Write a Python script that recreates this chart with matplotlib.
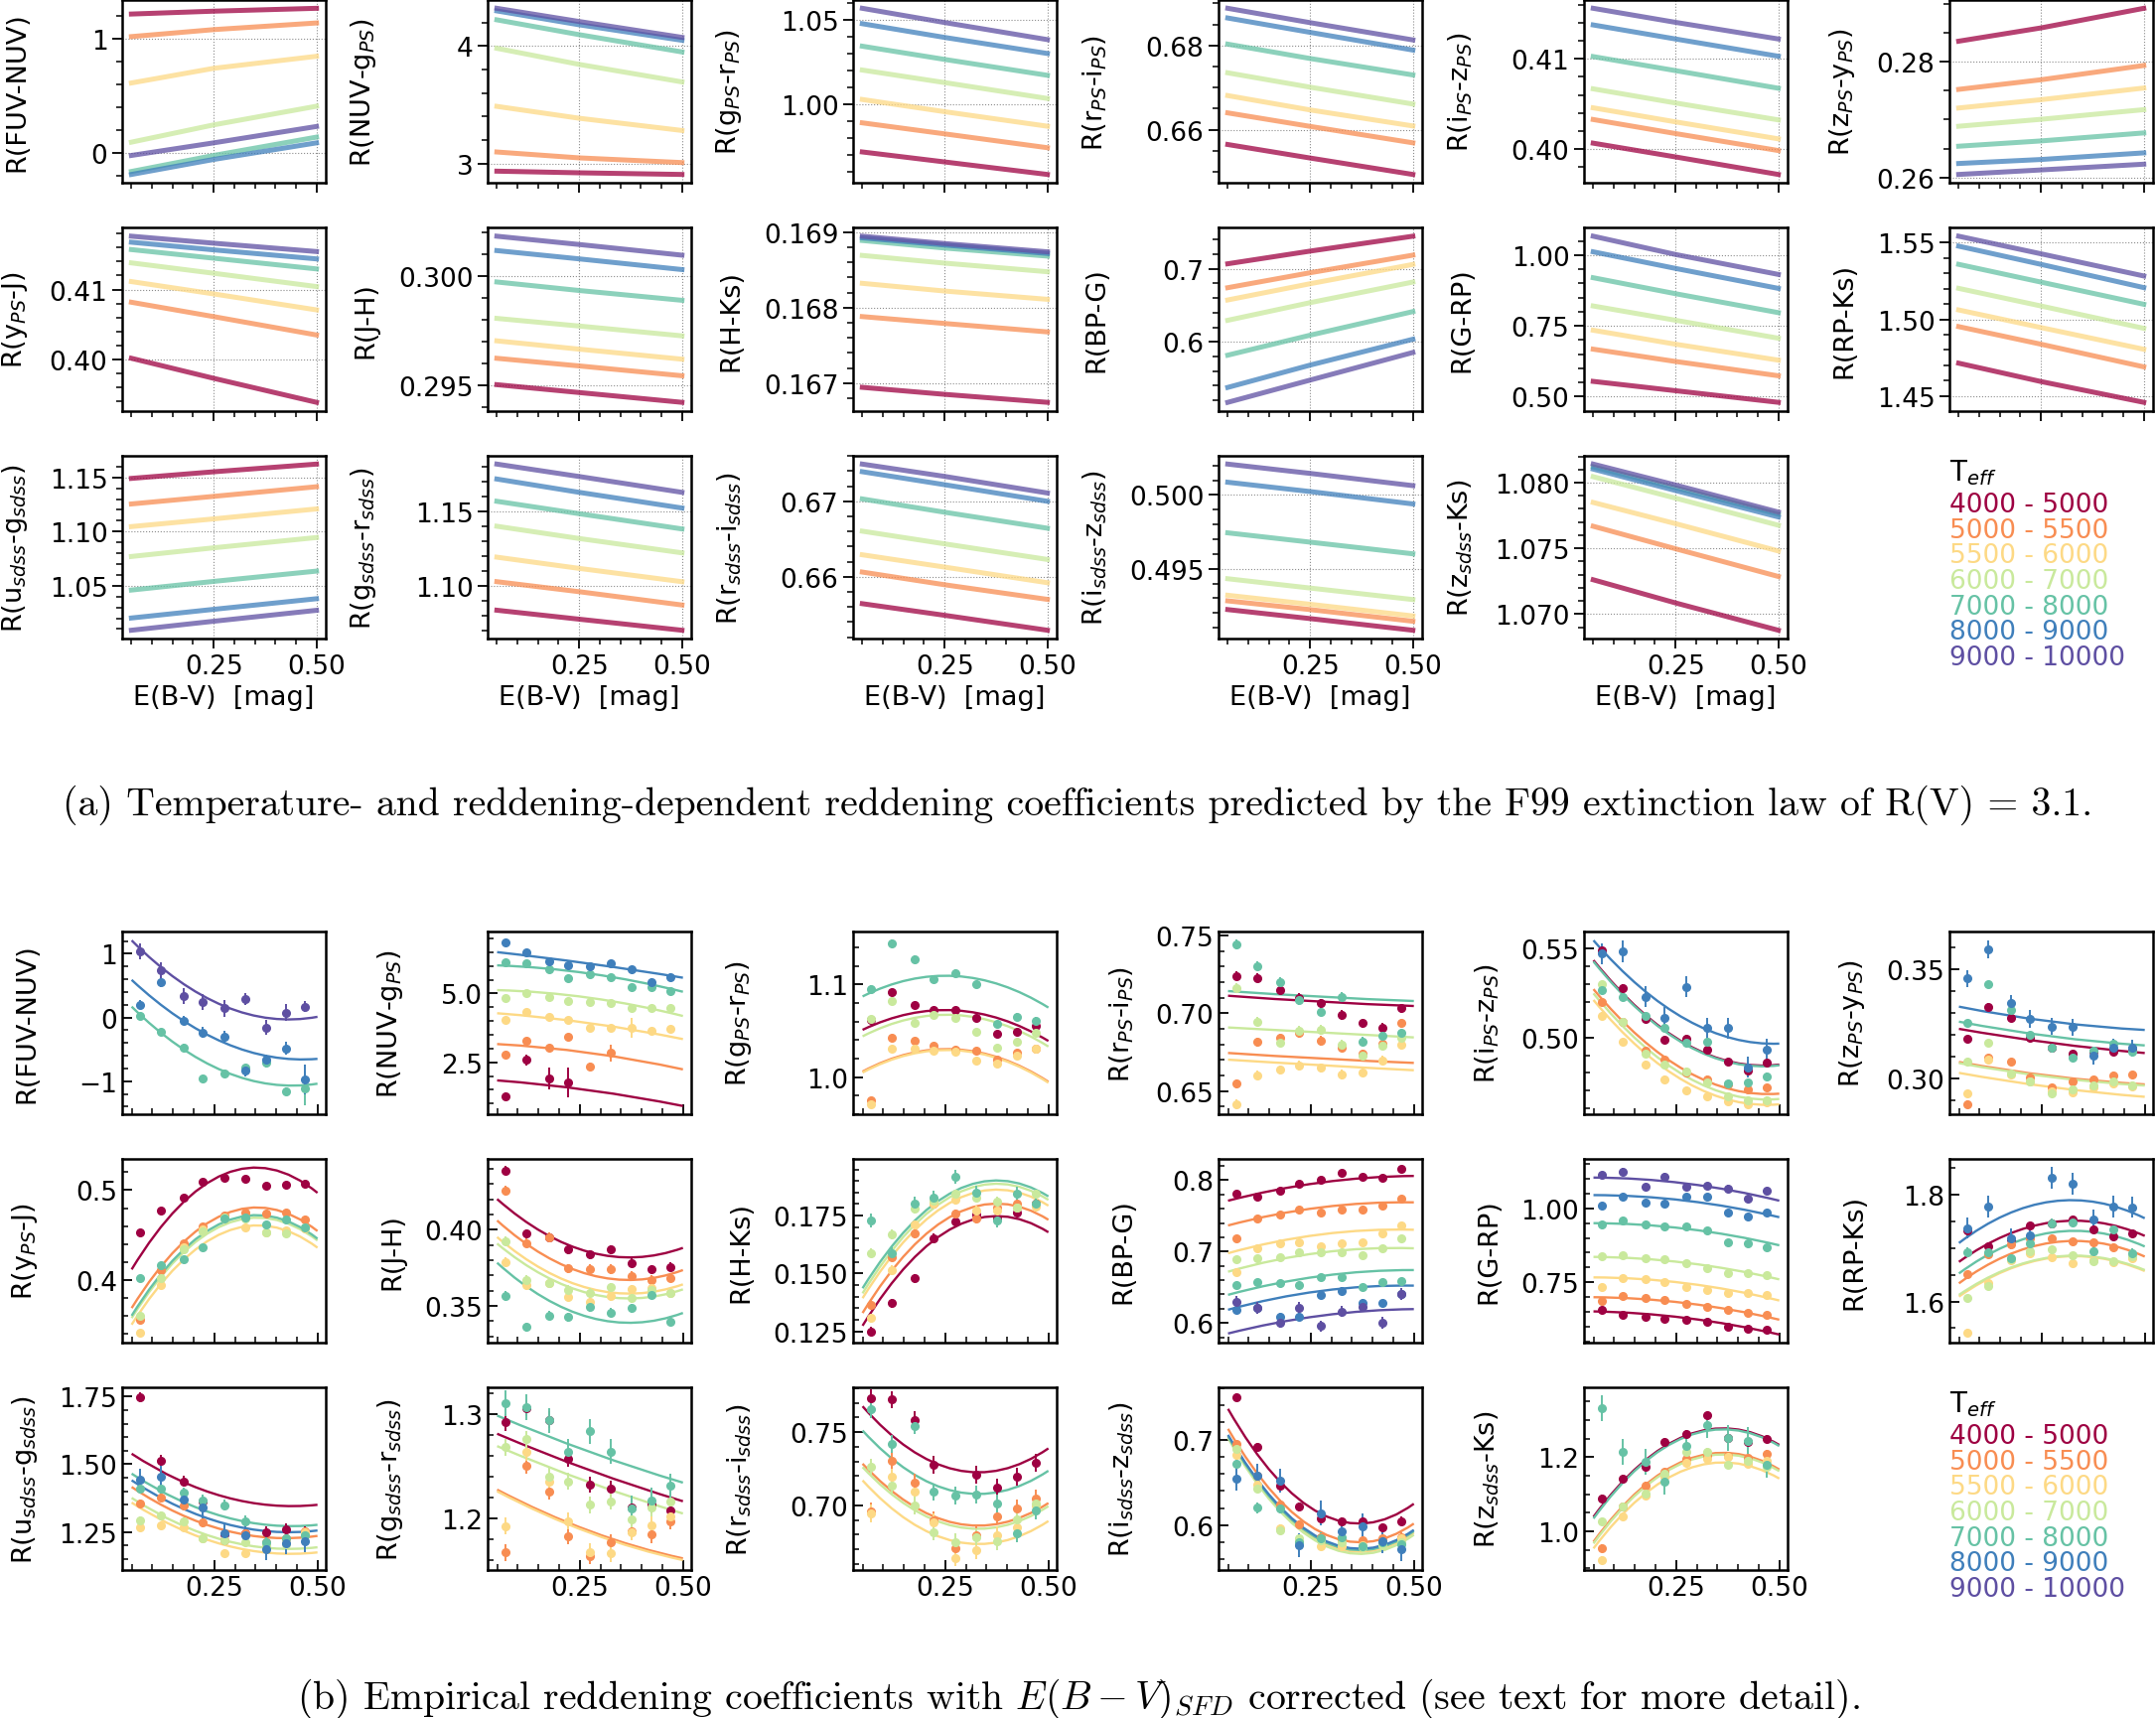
import numpy as np
import matplotlib
matplotlib.use('Agg')
import matplotlib.pyplot as plt
from matplotlib.path import Path
from matplotlib.patches import PathPatch
from matplotlib.ticker import MultipleLocator, AutoMinorLocator, ScalarFormatter

nan = np.nan

TEFF = ['4000 - 5000', '5000 - 5500', '5500 - 6000', '6000 - 7000',
        '7000 - 8000', '8000 - 9000', '9000 - 10000']
COLORS = ['#9e0142', '#f88d52', '#fdd985', '#c9e99c', '#66c2a5', '#3f7fbb', '#5e4fa2']

LABELS = ['R(FUV-NUV)', 'R(NUV-g$_{PS}$)', 'R(g$_{PS}$-r$_{PS}$)', 'R(r$_{PS}$-i$_{PS}$)',
          'R(i$_{PS}$-z$_{PS}$)', 'R(z$_{PS}$-y$_{PS}$)', 'R(y$_{PS}$-J)', 'R(J-H)',
          'R(H-Ks)', 'R(BP-G)', 'R(G-RP)', 'R(RP-Ks)',
          'R(u$_{sdss}$-g$_{sdss}$)', 'R(g$_{sdss}$-r$_{sdss}$)',
          'R(r$_{sdss}$-i$_{sdss}$)', 'R(i$_{sdss}$-z$_{sdss}$)', 'R(z$_{sdss}$-Ks)']

# ---- (a) F99 predictions: value at E(B-V) = 0.05, 0.25, 0.50, one row per Teff bin
EBV_LINE = [0.05, 0.25, 0.5]

A_FUV_NUV = [[1.212, 1.237, 1.262], [1.015, 1.076, 1.134], [0.610, 0.738, 0.843],
             [0.093, 0.244, 0.407], [-0.163, -0.023, 0.137], [-0.189, -0.058, 0.087],
             [-0.023, 0.087, 0.230]]
A_NUV_G = [[2.935, 2.921, 2.907], [3.098, 3.048, 3.008], [3.486, 3.385, 3.281],
           [3.980, 3.843, 3.694], [4.222, 4.096, 3.949], [4.298, 4.180, 4.048],
           [4.320, 4.208, 4.073]]
A_G_R_PS = [[0.9719, 0.9660, 0.9586], [0.9891, 0.9826, 0.9744], [1.0029, 0.9957, 0.9871],
            [1.0203, 1.0129, 1.0035], [1.0344, 1.0266, 1.0172], [1.0477, 1.0396, 1.0301],
            [1.0568, 1.0484, 1.0383]]
A_R_I_PS = [[0.6565, 0.6533, 0.6494], [0.6640, 0.6608, 0.6569], [0.6681, 0.6647, 0.6609],
            [0.6735, 0.6701, 0.6661], [0.6803, 0.6769, 0.6730], [0.6865, 0.6831, 0.6789],
            [0.6888, 0.6854, 0.6813]]
A_I_Z_PS = [[0.40063, 0.3991, 0.39715], [0.40326, 0.4017, 0.39981], [0.40456, 0.4030, 0.40111],
            [0.40667, 0.4051, 0.40322], [0.41026, 0.4087, 0.40674], [0.41378, 0.41222, 0.41030],
            [0.41563, 0.41407, 0.41222]]
A_Z_Y_PS = [[0.28350, 0.28579, 0.28917], [0.27519, 0.27685, 0.27931], [0.27198, 0.27341, 0.27542],
            [0.26883, 0.27003, 0.27169], [0.26539, 0.26630, 0.26768], [0.26241, 0.26310, 0.26424],
            [0.26052, 0.26130, 0.26229]]
A_Y_J = [[0.40019, 0.39733, 0.39390], [0.40819, 0.40614, 0.40352], [0.41114, 0.40938, 0.40710],
         [0.41381, 0.41233, 0.41043], [0.41571, 0.41448, 0.41295], [0.41676, 0.41567, 0.41438],
         [0.41762, 0.41662, 0.41543]]
A_J_H = [[0.29502, 0.29466, 0.29421], [0.29623, 0.29588, 0.29543], [0.29703, 0.29665, 0.29619],
         [0.29806, 0.29771, 0.29726], [0.29973, 0.29934, 0.29889], [0.30117, 0.30079, 0.30030],
         [0.30183, 0.30145, 0.30096]]
A_H_KS = [[0.166943, 0.16685, 0.166744], [0.167881, 0.16779, 0.167678], [0.168322, 0.16822, 0.168110],
          [0.168692, 0.16859, 0.168476], [0.16889, 0.16879, 0.168683], [0.168925, 0.16883, 0.168718],
          [0.168947, 0.16885, 0.168740]]
A_BP_G = [[0.7068, 0.7241, 0.7445], [0.6741, 0.6945, 0.7186], [0.6573, 0.6795, 0.7059],
          [0.6295, 0.6536, 0.6818], [0.5818, 0.6091, 0.6414], [0.5377, 0.5682, 0.6036],
          [0.5173, 0.5477, 0.5855]]
A_G_RP = [[0.5540, 0.5211, 0.4800], [0.6678, 0.6244, 0.5739], [0.7347, 0.6854, 0.6291],
          [0.8204, 0.7700, 0.7066], [0.9202, 0.8638, 0.7969], [1.0117, 0.9531, 0.8826],
          [1.0669, 1.0023, 0.9319]]
A_RP_KS = [[1.4713, 1.4593, 1.4457], [1.4952, 1.4837, 1.4689], [1.5061, 1.4946, 1.4804],
           [1.5202, 1.5087, 1.4941], [1.5359, 1.5243, 1.5098], [1.5478, 1.5359, 1.5207],
           [1.5543, 1.5428, 1.5283]]
A_U_G_SDSS = [[1.1491, 1.1552, 1.1623], [1.1255, 1.1325, 1.1414], [1.1046, 1.1117, 1.1209],
              [1.0770, 1.0850, 1.0945], [1.0460, 1.0540, 1.0635], [1.0202, 1.0282, 1.0380],
              [1.0089, 1.0172, 1.0273]]
A_G_R_SDSS = [[1.0838, 1.0778, 1.0704], [1.1029, 1.0962, 1.0873], [1.1193, 1.1118, 1.1029],
              [1.1400, 1.1318, 1.1222], [1.1567, 1.1484, 1.1382], [1.1716, 1.1627, 1.1522],
              [1.1816, 1.1733, 1.1627]]
A_R_I_SDSS = [[0.65643, 0.65489, 0.65291], [0.66062, 0.65894, 0.65700], [0.66291, 0.66128, 0.65921],
              [0.66604, 0.66436, 0.66229], [0.67031, 0.66855, 0.66643], [0.67392, 0.67220, 0.67000],
              [0.67493, 0.67330, 0.67110]]
A_I_Z_SDSS = [[0.49223, 0.49162, 0.49083], [0.49282, 0.49223, 0.49144], [0.49320, 0.49259, 0.49180],
              [0.49432, 0.49369, 0.49291], [0.49743, 0.49680, 0.49601], [0.50086, 0.50023, 0.49939],
              [0.50209, 0.50146, 0.50063]]
A_Z_KS = [[1.07261, 1.07085, 1.06877], [1.07668, 1.07497, 1.07286], [1.07849, 1.07688, 1.07480],
          [1.08045, 1.07882, 1.07676], [1.0812, 1.0796, 1.0776], [1.08103, 1.0794, 1.07739],
          [1.08141, 1.07982, 1.07776]]

A_DATA = [A_FUV_NUV, A_NUV_G, A_G_R_PS, A_R_I_PS, A_I_Z_PS, A_Z_Y_PS, A_Y_J, A_J_H, A_H_KS,
          A_BP_G, A_G_RP, A_RP_KS, A_U_G_SDSS, A_G_R_SDSS, A_R_I_SDSS, A_I_Z_SDSS, A_Z_KS]
A_STEP = [1, 1, 0.05, 0.02, 0.01, 0.02, 0.01, 0.005, 0.001, 0.1, 0.25, 0.05,
          0.05, 0.05, 0.01, 0.005, 0.005]

# ---- (b) empirical: binned points (keyed by Teff bin index) and quadratic fits,
# the fits read at E(B-V) = 0.05, 0.275, 0.50
EBV_BIN = [0.07, 0.12, 0.175, 0.222, 0.275, 0.325, 0.375, 0.424, 0.47]
EBV_FIT = [0.05, 0.275, 0.5]

B_FUV_NUV = {4: [0.026, -0.218, -0.468, -0.961, -0.878, -0.790, -0.712, -1.164, -1.112],
             5: [0.197, 0.561, -0.052, -0.234, -0.306, -0.831, -0.660, -0.488, -0.971],
             6: [1.039, 0.743, 0.338, 0.240, 0.145, 0.286, -0.156, 0.078, 0.171]}
B_FUV_NUV_ERR = {4: [0.04, 0.04, 0.05, 0.05, 0.06, 0.05, 0.07, 0.06, 0.26],
                 5: [0.07, 0.08, 0.07, 0.09, 0.10, 0.09, 0.07, 0.10, 0.23],
                 6: [0.12, 0.13, 0.12, 0.12, 0.13, 0.09, 0.12, 0.13, 0.09]}
B_FUV_NUV_FIT = {4: [0.17, -0.85, -1.04], 5: [0.59, -0.40, -0.65], 6: [1.21, 0.176, 0.01]}

B_NUV_G = {0: [1.27, 2.58, 1.90, 1.76, nan, nan, nan, nan, nan],
           1: [2.78, 3.28, 3.04, 3.43, 2.36, 2.84, nan, nan, nan],
           2: [4.04, 4.32, 4.15, 4.04, 3.76, 3.74, 3.74, 3.65, 3.71],
           3: [4.84, 5.00, 4.87, 4.72, 4.70, 4.66, 4.48, 4.46, 4.48],
           4: [6.14, 6.08, 5.87, 5.54, 5.69, 5.59, 5.22, 5.23, 5.10],
           5: [6.84, 6.48, 6.18, 6.02, 5.99, 6.08, 5.88, 5.42, 5.60]}
B_NUV_G_ERR = {0: [0.12, 0.20, 0.40, 0.55, 0, 0, 0, 0, 0],
               1: [0.08, 0.08, 0.08, 0.08, 0.14, 0.30, 0, 0, 0],
               2: [0.06, 0.06, 0.06, 0.06, 0.06, 0.06, 0.36, 0.06, 0.06],
               3: 0.06, 4: 0.06,
               5: [0.06, 0.06, 0.06, 0.06, 0.06, 0.06, 0.06, 0.12, 0.12]}
B_NUV_G_FIT = {0: [1.84, 1.48, 0.91], 1: [3.16, 2.84, 2.24], 2: [4.28, 3.92, 3.34],
               3: [5.12, 4.84, 4.18], 4: [6.02, 5.72, 5.06], 5: [6.50, 6.08, 5.57]}

B_G_R_PS = {0: [1.062, 1.092, 1.078, 1.072, 1.072, 1.064, 1.047, 1.049, 1.055],
            1: [0.975, 1.042, 1.039, 1.034, 1.030, 1.029, 1.019, 1.026, 1.031],
            2: [0.971, 1.031, 1.031, 1.029, 1.027, 1.018, 1.015, 1.023, 1.031],
            3: [1.063, 1.082, 1.058, 1.067, 1.064, 1.049, 1.032, 1.038, 1.048],
            4: [1.095, 1.144, 1.127, 1.106, 1.112, 1.100, 1.057, 1.065, 1.061]}
B_G_R_PS_ERR = {0: 0.002, 1: 0.002, 2: 0.002, 3: 0.002, 4: 0.004}
B_G_R_PS_FIT = {0: [1.051, 1.072, 1.039], 1: [1.006, 1.030, 0.995], 2: [1.005, 1.029, 0.994],
                3: [1.044, 1.067, 1.033], 4: [1.087, 1.109, 1.075]}

B_R_I_PS = {0: [0.7240, 0.7228, 0.7149, 0.7100, 0.7064, 0.6989, 0.6936, 0.6909, 0.7032],
            1: [0.6547, 0.6815, 0.6840, 0.6872, 0.6823, 0.6781, 0.6738, 0.6802, 0.6936],
            2: [0.6415, 0.6602, 0.6636, 0.6664, 0.6649, 0.6606, 0.6621, 0.6698, 0.6798],
            3: [0.7164, 0.6947, 0.6813, 0.6887, 0.6894, 0.6798, 0.6730, 0.6794, 0.6840],
            4: [0.7443, 0.7304, 0.7202, 0.7085, 0.7011, 0.7106, 0.6819, 0.6857, 0.6872]}
B_R_I_PS_ERR = 0.003
B_R_I_PS_FIT = {0: [0.7113, 0.7074, 0.7047], 1: [0.6745, 0.6709, 0.6681], 2: [0.6702, 0.6666, 0.6634],
                3: [0.6909, 0.6877, 0.6845], 4: [0.7143, 0.7106, 0.7079]}

B_I_Z_PS = {0: [0.5491, 0.5280, 0.5104, 0.4987, 0.4993, 0.4931, 0.4862, 0.4813, 0.4856],
            1: [0.5201, 0.5090, 0.4925, 0.4875, 0.4800, 0.4763, 0.4735, 0.4707, 0.4716],
            2: [0.5123, 0.4974, 0.4847, 0.4763, 0.4701, 0.4670, 0.4638, 0.4623, 0.4632],
            3: [0.5299, 0.5090, 0.4907, 0.4847, 0.4810, 0.4744, 0.4670, 0.4646, 0.4646],
            4: [0.5267, 0.5229, 0.5121, 0.5056, 0.4968, 0.4978, 0.4739, 0.4744, 0.4780],
            5: [0.5472, 0.5485, 0.5229, 0.5112, 0.5285, 0.5052, 0.5052, 0.4832, 0.4931]}
B_I_Z_PS_ERR = {0: 0.002, 1: 0.002, 2: 0.002, 3: 0.002, 4: 0.002, 5: 0.006}
B_I_Z_PS_FIT = {0: [0.5435, 0.4962, 0.4847], 1: [0.5272, 0.4810, 0.4683], 2: [0.5211, 0.4747, 0.4623],
                3: [0.5248, 0.4779, 0.4653], 4: [0.5428, 0.4957, 0.4843], 5: [0.5547, 0.5100, 0.4965]}

B_Z_Y_PS = {0: [0.3182, 0.3330, 0.3277, 0.3185, 0.3140, 0.3112, 0.3125, 0.3122, 0.3137],
            1: [0.2884, 0.3094, 0.3076, 0.3006, 0.2960, 0.2985, 0.2995, 0.3015, 0.3018],
            2: [0.2930, 0.3087, 0.3018, 0.2988, 0.2939, 0.2935, 0.2957, 0.2976, 0.2965],
            3: [0.3076, 0.3163, 0.3021, 0.2988, 0.2930, 0.2950, 0.2970, 0.2985, 0.2970],
            4: [0.3254, 0.3432, 0.3315, 0.3201, 0.3143, 0.3094, 0.3128, 0.3158, 0.3125],
            5: [0.3459, 0.3593, 0.3345, 0.3274, 0.3239, 0.3236, 0.3106, 0.3143, 0.3140]}
B_Z_Y_PS_ERR = {0: 0.0015, 1: 0.0015, 2: 0.0015, 3: 0.0015, 4: 0.0015, 5: 0.004}
B_Z_Y_PS_FIT = {0: [0.3228, 0.3163, 0.3117], 1: [0.3076, 0.3011, 0.2973], 2: [0.3026, 0.2960, 0.2916],
                3: [0.3071, 0.3006, 0.2968], 4: [0.3261, 0.3193, 0.3152], 5: [0.3330, 0.3261, 0.3223]}

B_Y_J = {0: [0.4526, 0.4772, 0.4919, 0.5092, 0.5140, 0.5129, 0.5048, 0.5059, 0.5066],
         1: [0.3559, 0.4110, 0.4404, 0.4596, 0.4717, 0.4754, 0.4743, 0.4754, 0.4669],
         2: [0.3412, 0.3945, 0.4368, 0.4559, 0.4680, 0.4581, 0.4533, 0.4551, 0.4570],
         3: [0.3603, 0.4018, 0.4338, 0.4544, 0.4699, 0.4680, 0.4533, 0.4522, 0.4588],
         4: [0.4018, 0.4165, 0.4228, 0.4360, 0.4680, 0.4691, 0.4618, 0.4669, 0.4588]}
B_Y_J_ERR = 0.003
B_Y_J_FIT = {0: [0.4118, 0.5180, 0.4970], 1: [0.3688, 0.4733, 0.4545], 2: [0.3504, 0.4532, 0.4360],
             3: [0.3577, 0.4618, 0.4440], 4: [0.3603, 0.4648, 0.4460]}

B_J_H = {0: [0.4391, 0.3974, 0.3952, 0.3870, 0.3837, 0.3870, 0.3783, 0.3739, 0.3757],
         1: [0.4257, 0.3913, 0.3952, 0.3746, 0.3741, 0.3741, 0.3698, 0.3670, 0.3685],
         2: [0.3789, 0.3637, 0.3648, 0.3561, 0.3528, 0.3565, 0.3609, 0.3620, 0.3583],
         3: [0.3926, 0.3670, 0.3648, 0.3604, 0.3587, 0.3622, 0.3550, 0.3604, 0.3583],
         4: [0.3565, 0.3361, 0.3435, 0.3426, 0.3491, 0.3457, 0.3485, 0.3572, 0.3398]}
B_J_H_ERR = 0.003
B_J_H_FIT = {0: [0.4202, 0.3852, 0.3881], 1: [0.4061, 0.3704, 0.3735], 2: [0.3952, 0.3613, 0.3641],
             3: [0.3909, 0.3580, 0.3608], 4: [0.3783, 0.3423, 0.3453]}

B_H_KS = {0: [0.1250, 0.1371, 0.1479, 0.1653, 0.1724, 0.1754, 0.1736, 0.1764, 0.1803],
          1: [0.1364, 0.1571, 0.1671, 0.1803, 0.1757, 0.1736, 0.1786, 0.1800, 0.1800],
          2: [0.1307, 0.1514, 0.1711, 0.1800, 0.1817, 0.1774, 0.1774, 0.1783, 0.1789],
          3: [0.1589, 0.1669, 0.1779, 0.1814, 0.1843, 0.1829, 0.1811, 0.1786, 0.1843],
          4: [0.1729, 0.1589, 0.1803, 0.1829, 0.1919, 0.1850, 0.1729, 0.1846, 0.1803]}
B_H_KS_ERR = {0: 0.002, 1: 0.002, 2: 0.002, 3: 0.002, 4: 0.003}
B_H_KS_FIT = {0: [0.1274, 0.1703, 0.1678], 1: [0.1329, 0.1757, 0.1732], 2: [0.1393, 0.1818, 0.1793],
              3: [0.1414, 0.1843, 0.1818], 4: [0.1436, 0.1858, 0.1833]}

B_BP_G = {0: [0.7806, 0.7769, 0.7852, 0.7954, 0.8000, 0.8106, 0.8051, 0.8037, 0.8153],
          1: [0.7190, 0.7458, 0.7519, 0.7583, 0.7551, 0.7588, 0.7588, 0.7644, 0.7736],
          2: [0.6718, 0.7042, 0.7111, 0.7134, 0.7074, 0.7120, 0.7134, 0.7250, 0.7366],
          3: [0.6889, 0.6912, 0.6926, 0.6995, 0.6995, 0.6995, 0.6949, 0.7042, 0.7190],
          4: [0.6532, 0.6579, 0.6556, 0.6532, 0.6639, 0.6639, 0.6509, 0.6579, 0.6593],
          5: [0.6185, 0.6208, 0.6088, 0.6093, 0.6394, 0.6454, 0.6287, 0.6278, 0.6407],
          6: [0.6301, 0.6208, 0.6009, 0.6208, 0.5954, 0.6162, 0.6231, 0.6000, 0.6407]}
B_BP_G_ERR = {0: 0.003, 1: 0.003, 2: 0.003, 3: 0.003, 4: 0.004, 5: 0.005, 6: 0.008}
B_BP_G_FIT = {0: [0.7713, 0.7968, 0.8060], 1: [0.7366, 0.7620, 0.7690], 2: [0.6977, 0.7241, 0.7306],
              3: [0.6718, 0.6986, 0.7046], 4: [0.6394, 0.6657, 0.6741], 5: [0.6185, 0.6449, 0.6523],
              6: [0.5852, 0.6102, 0.6194]}

B_G_RP = {0: [0.6574, 0.6406, 0.6328, 0.6272, 0.6239, 0.6161, 0.6016, 0.5938, 0.5904],
          1: [0.6886, 0.7054, 0.6964, 0.6908, 0.6775, 0.6663, 0.6574, 0.6462, 0.6406],
          2: [0.7355, 0.7634, 0.7612, 0.7522, 0.7355, 0.7243, 0.7132, 0.7154, 0.7076],
          3: [0.8393, 0.8415, 0.8326, 0.8281, 0.8136, 0.7969, 0.7824, 0.7801, 0.7746],
          4: [0.9453, 0.9587, 0.9453, 0.9386, 0.9397, 0.9252, 0.8862, 0.8806, 0.8694],
          5: [1.0089, 1.0391, 1.0201, 1.0145, 1.0391, 1.0391, 0.9866, 0.9721, 0.9844],
          6: [1.1127, 1.1239, 1.0725, 1.1071, 1.0725, 1.0748, 1.0670, 1.0313, 1.0592]}
B_G_RP_ERR = {0: 0.005, 1: 0.005, 2: 0.005, 3: 0.005, 4: 0.006, 5: 0.008, 6: 0.012}
B_G_RP_FIT = {0: [0.6518, 0.6295, 0.5737], 1: [0.6998, 0.6797, 0.6239], 2: [0.7667, 0.7467, 0.6886],
              3: [0.8359, 0.8158, 0.7600], 4: [0.9498, 0.9308, 0.8750], 5: [1.0446, 1.0257, 0.9699],
              6: [1.1038, 1.0837, 1.0257]}

B_RP_KS = {0: [1.7331, 1.7034, 1.7158, 1.7424, 1.7467, 1.7529, 1.7344, 1.7220, 1.7282],
           1: [1.6514, 1.6885, 1.7065, 1.7176, 1.7176, 1.7127, 1.7115, 1.7022, 1.6836],
           2: [1.5424, 1.6341, 1.6774, 1.6898, 1.6836, 1.6712, 1.6774, 1.6743, 1.6805],
           3: [1.6062, 1.6297, 1.6786, 1.6941, 1.6972, 1.6867, 1.6762, 1.6762, 1.6848],
           4: [1.6929, 1.6929, 1.6805, 1.7096, 1.7467, 1.7486, 1.6947, 1.7344, 1.6910],
           5: [1.7375, 1.7777, 1.7176, 1.7238, 1.8322, 1.8211, 1.7529, 1.7783, 1.7765]}
B_RP_KS_ERR = {0: 0.006, 1: 0.006, 2: 0.006, 3: 0.006, 4: 0.008, 5: 0.02}
B_RP_KS_FIT = {0: [1.6743, 1.7485, 1.7230], 1: [1.6341, 1.7105, 1.6842], 2: [1.6093, 1.6821, 1.6571],
               3: [1.6124, 1.6832, 1.6589], 4: [1.6526, 1.7294, 1.7031], 5: [1.7096, 1.7875, 1.7560]}

B_U_G_SDSS = {0: [1.7475, 1.5141, 1.4367, 1.3606, 1.2400, 1.2463, 1.2500, 1.2598, 1.2500],
              1: [1.3544, 1.3753, 1.3483, 1.2832, 1.2193, 1.2439, 1.2131, 1.2254, 1.2525],
              2: [1.2684, 1.2746, 1.2684, 1.2254, 1.1701, 1.1701, 1.2009, 1.2070, 1.2500],
              3: [1.2905, 1.3114, 1.2869, 1.2254, 1.2193, 1.2107, 1.2009, 1.2033, 1.2377],
              4: [1.4097, 1.4097, 1.3950, 1.3667, 1.3483, 1.2893, 1.2131, 1.2279, 1.2377],
              5: [1.4441, 1.4527, 1.3692, 1.3385, 1.2439, 1.2377, 1.1861, 1.2070, 1.2156]}
B_U_G_SDSS_ERR = {0: 0.02, 1: 0.015, 2: 0.015, 3: 0.015, 4: 0.02, 5: 0.04}
B_U_G_SDSS_FIT = {0: [1.5387, 1.3792, 1.3499], 1: [1.4158, 1.2560, 1.2349], 2: [1.3581, 1.2013, 1.1739],
                  3: [1.3753, 1.2185, 1.1929], 4: [1.4650, 1.3052, 1.2759], 5: [1.4404, 1.2806, 1.2549]}

B_G_R_SDSS = {0: [1.2921, 1.3054, 1.2943, 1.2571, 1.2324, 1.2286, 1.2102, 1.2133, 1.2079],
              1: [1.1676, 1.2508, 1.2260, 1.1835, 1.1644, 1.1771, 1.1879, 1.1848, 1.1975],
              2: [1.1927, 1.2635, 1.2356, 1.1975, 1.1683, 1.1667, 1.1873, 1.1937, 1.2016],
              3: [1.2683, 1.2756, 1.2403, 1.2356, 1.2133, 1.2165, 1.1994, 1.2102, 1.2159],
              4: [1.3102, 1.3063, 1.2937, 1.2641, 1.2832, 1.2641, 1.2095, 1.2175, 1.2311]}
B_G_R_SDSS_ERR = {0: 0.008, 1: 0.008, 2: 0.008, 3: 0.008, 4: 0.012}
B_G_R_SDSS_FIT = {0: [1.2810, 1.2460, 1.2165], 1: [1.2276, 1.1879, 1.1619], 2: [1.2260, 1.1863, 1.1603],
                  3: [1.2692, 1.2343, 1.2048], 4: [1.2984, 1.2635, 1.2343]}

B_R_I_SDSS = {0: [0.7732, 0.7723, 0.7584, 0.7277, nan, 0.7209, 0.7120, 0.7195, 0.7291],
              1: [0.6959, 0.7307, 0.7155, 0.6898, 0.6705, 0.6795, 0.6927, 0.6977, 0.7045],
              2: [0.6943, 0.7193, 0.7091, 0.6886, 0.6641, 0.6693, 0.6795, 0.6852, 0.7000],
              3: [0.7261, 0.7136, 0.7000, 0.6818, 0.6750, 0.6784, 0.6755, 0.6905, 0.7011],
              4: [0.7655, 0.7420, 0.7545, 0.7091, 0.7068, 0.7073, 0.7011, 0.6807, 0.6966]}
B_R_I_SDSS_ERR = 0.006
B_R_I_SDSS_FIT = {0: [0.7677, 0.7243, 0.7389], 1: [0.7284, 0.6877, 0.7015], 2: [0.7170, 0.6752, 0.6892],
                  3: [0.7261, 0.6855, 0.6994], 4: [0.7511, 0.7094, 0.7236]}

B_I_Z_SDSS = {0: [0.7492, 0.6911, 0.6465, 0.6213, 0.6085, 0.6039, 0.6039, 0.5973, 0.6047],
              1: [0.6950, 0.6581, 0.6244, 0.6008, 0.5864, 0.5826, 0.5826, 0.5853, 0.5864],
              2: [0.6822, 0.6473, 0.5961, 0.5814, 0.5760, 0.5760, 0.5767, 0.5787, 0.5853],
              3: [0.6891, 0.6426, 0.5942, 0.5845, 0.5826, 0.5806, 0.5748, 0.5767, 0.5806],
              4: [0.6717, 0.6202, 0.6194, 0.5798, 0.5853, 0.5864, 0.5760, 0.5806, 0.5775],
              5: [0.6543, 0.6581, 0.6523, 0.5771, 0.6143, 0.5930, 0.5992, 0.5814, 0.5717]}
B_I_Z_SDSS_ERR = {0: 0.005, 1: 0.005, 2: 0.005, 3: 0.005, 4: 0.006, 5: 0.014}
B_I_Z_SDSS_FIT = {0: [0.7357, 0.6133, 0.6250], 1: [0.7124, 0.5917, 0.6019], 2: [0.7039, 0.5807, 0.5914],
                  3: [0.7016, 0.5784, 0.5888], 4: [0.7039, 0.5825, 0.5930], 5: [0.7054, 0.5842, 0.5945]}

B_Z_KS = {0: [1.0879, 1.1417, 1.1731, 1.2404, 1.2628, 1.3121, 1.2511, 1.2404, 1.2493],
          1: [0.9552, 1.0655, 1.1238, 1.1596, 1.1955, 1.2027, 1.2045, 1.1973, 1.2090],
          2: [0.9220, 1.0386, 1.0969, 1.1462, 1.1848, 1.1955, 1.2000, 1.1821, 1.1910],
          3: [1.0251, 1.0655, 1.1013, 1.1552, 1.2152, 1.2135, 1.1794, 1.1910, 1.1731],
          4: [1.3318, 1.2135, 1.1865, 1.1327, 1.2314, 1.2870, 1.2511, 1.2448, 1.1794]}
B_Z_KS_ERR = {0: 0.01, 1: 0.01, 2: 0.01, 3: 0.01, 4: 0.035}
B_Z_KS_FIT = {0: [1.0386, 1.2584, 1.2327], 1: [0.9713, 1.1923, 1.1665], 2: [0.9534, 1.1669, 1.1420],
              3: [0.9668, 1.1878, 1.1620], 4: [1.0341, 1.2555, 1.2298]}

# points, errors, fits, y-range, major tick step
B_PANELS = [
    (B_FUV_NUV, B_FUV_NUV_ERR, B_FUV_NUV_FIT, (-1.52, 1.35), 1),
    (B_NUV_G, B_NUV_G_ERR, B_NUV_G_FIT, (0.61, 7.25), 2.5),
    (B_G_R_PS, B_G_R_PS_ERR, B_G_R_PS_FIT, (0.960, 1.157), 0.1),
    (B_R_I_PS, B_R_I_PS_ERR, B_R_I_PS_FIT, (0.6351, 0.7526), 0.05),
    (B_I_Z_PS, B_I_Z_PS_ERR, B_I_Z_PS_FIT, (0.4567, 0.5597), 0.05),
    (B_Z_Y_PS, B_Z_Y_PS_ERR, B_Z_Y_PS_FIT, (0.2836, 0.3675), 0.05),
    (B_Y_J, B_Y_J_ERR, B_Y_J_FIT, (0.3309, 0.5342), 0.1),
    (B_J_H, B_J_H_ERR, B_J_H_FIT, (0.3261, 0.4463), 0.05),
    (B_H_KS, B_H_KS_ERR, B_H_KS_FIT, (0.1203, 0.1993), 0.025),
    (B_BP_G, B_BP_G_ERR, B_BP_G_FIT, (0.5731, 0.8292), 0.1),
    (B_G_RP, B_G_RP_ERR, B_G_RP_FIT, (0.5480, 1.1652), 0.25),
    (B_RP_KS, B_RP_KS_ERR, B_RP_KS_FIT, (1.5239, 1.8663), 0.2),
    (B_U_G_SDSS, B_U_G_SDSS_ERR, B_U_G_SDSS_FIT, (1.1087, 1.7844), 0.25),
    (B_G_R_SDSS, B_G_R_SDSS_ERR, B_G_R_SDSS_FIT, (1.1508, 1.3254), 0.1),
    (B_R_I_SDSS, B_R_I_SDSS_ERR, B_R_I_SDSS_FIT, (0.6557, 0.7807), 0.05),
    (B_I_Z_SDSS, B_I_Z_SDSS_ERR, B_I_Z_SDSS_FIT, (0.5477, 0.7609), 0.1),
    (B_Z_KS, B_Z_KS_ERR, B_Z_KS_FIT, (0.8951, 1.3883), 0.2),
]

W, H = 2171, 1731
fig = plt.figure(figsize=(W / 100, H / 100), dpi=100)

grid_kw = dict(left=123 / W, right=2168 / W, wspace=0.795, hspace=0.247)
gs_a = fig.add_gridspec(3, 6, top=1 - 1 / H, bottom=1 - 644 / H, **grid_kw)
gs_b = fig.add_gridspec(3, 6, top=1 - 939 / H, bottom=1 - 1582 / H, **grid_kw)


def common_axis(ax, i, step, direction):
    ax.yaxis.set_major_locator(MultipleLocator(step))
    ax.yaxis.set_minor_locator(AutoMinorLocator())
    ax.yaxis.set_major_formatter(ScalarFormatter(useOffset=False))
    ax.xaxis.set_major_locator(MultipleLocator(0.25))
    ax.xaxis.set_minor_locator(MultipleLocator(0.05))
    ax.tick_params(which='both', direction=direction, top=False, right=False, labelsize=19)
    ax.tick_params(which='major', length=7, width=1.3)
    ax.tick_params(which='minor', length=4, width=1.1)
    for s in ax.spines.values():
        s.set_linewidth(1.8)
    ax.set_ylabel(LABELS[i], fontsize=19.5, labelpad=14)
    if i < 12:
        ax.tick_params(labelbottom=False)


def fit_curve(ax, y, color):
    # the fits are quadratics: one quadratic Bezier segment through the three read values
    x = EBV_FIT
    ctrl = 2 * y[1] - 0.5 * (y[0] + y[2])
    path = Path([(x[0], y[0]), (x[1], ctrl), (x[2], y[2])],
                [Path.MOVETO, Path.CURVE3, Path.CURVE3])
    ax.add_patch(PathPatch(path, fc='none', ec=color, lw=1.7, zorder=2))


def teff_legend(ax):
    ax.axis('off')
    ax.text(0, 0.87, 'T$_{eff}$', transform=ax.transAxes, fontsize=20, va='baseline')
    for k, (lab, c) in enumerate(zip(TEFF, COLORS)):
        ax.text(0, 0.696 - 0.1397 * k, lab, color=c, transform=ax.transAxes,
                fontsize=19, va='baseline')


axes_a = []
for i, (vals, step) in enumerate(zip(A_DATA, A_STEP)):
    ax = fig.add_subplot(gs_a[i // 6, i % 6])
    for g, v in enumerate(vals):
        ax.plot(EBV_LINE, v, color=COLORS[g], lw=3.6, alpha=0.75)
    common_axis(ax, i, step, 'out')
    ax.grid(True, which='major', ls=':', lw=0.8, color='0.55')
    if i >= 12:
        ax.set_xlabel('E(B-V)  [mag]', fontsize=19.5)
    axes_a.append(ax)
teff_legend(fig.add_subplot(gs_a[2, 5]))

axes_b = []
for i, (pts, err, fit, ylim, step) in enumerate(B_PANELS):
    ax = fig.add_subplot(gs_b[i // 6, i % 6])
    for g in sorted(pts):
        e = err[g] if isinstance(err, dict) else err
        ax.errorbar(EBV_BIN, pts[g], yerr=e, fmt='o', ms=5.5, color=COLORS[g],
                    elinewidth=1.4, capsize=0, zorder=3)
        fit_curve(ax, fit[g], COLORS[g])
    ax.set_xlim(0.027, 0.52)
    ax.set_ylim(*ylim)
    common_axis(ax, i, step, 'in')
    axes_b.append(ax)
teff_legend(fig.add_subplot(gs_b[2, 5]))

fig.align_ylabels(axes_a)
fig.align_ylabels(axes_b)

fig.text(0.5, 1 - 811 / H,
         '(a) Temperature- and reddening-dependent reddening coefficients predicted by '
         'the F99 extinction law of R(V) = 3.1.',
         family='cmr10', fontsize=28.6, va='center', ha='center')
fig.text(0.5, 1 - 1711 / H,
         '(b) Empirical reddening coefficients with $E(B-V)_{SFD}$ corrected '
         '(see text for more detail).',
         family='cmr10', math_fontfamily='cm', fontsize=28.6, va='center', ha='center')

fig.savefig('out.png', dpi=100)
